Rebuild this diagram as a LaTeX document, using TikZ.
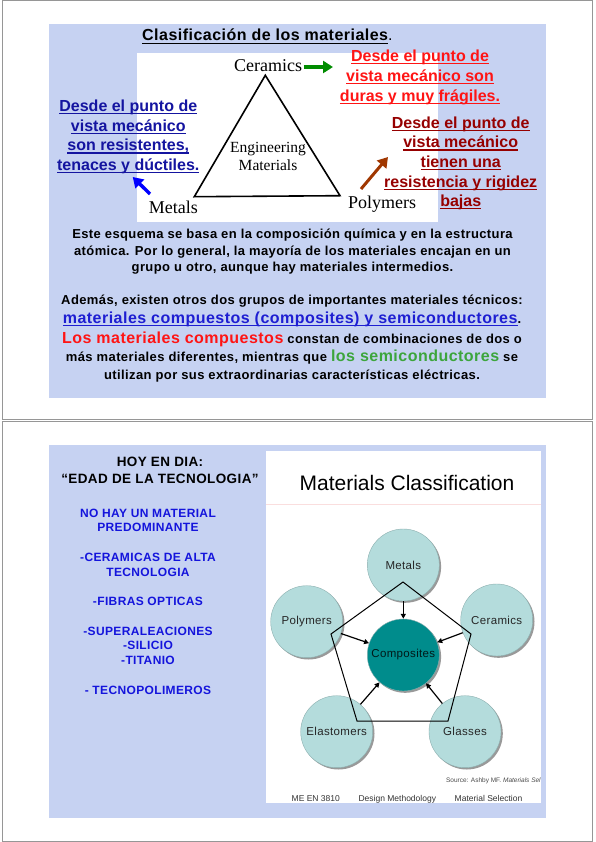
\documentclass[tikz,border=0pt]{standalone}
\usepackage{fontspec}
\setmainfont{Liberation Sans}
\newfontfamily\timesfont{Liberation Serif}
\newfontfamily\spacedsans[LetterSpace=3]{Liberation Sans}
\usetikzlibrary{arrows.meta, shadows}

\definecolor{framegray}{RGB}{150,150,150}
\definecolor{slidebg}{RGB}{198,210,242}
\definecolor{hardred}{RGB}{255,20,20}
\definecolor{toughblue}{RGB}{20,20,160}
\definecolor{softred}{RGB}{150,0,0}
\definecolor{arrowgreen}{RGB}{0,140,0}
\definecolor{arrowblue}{RGB}{0,0,255}
\definecolor{arrowbrown}{RGB}{160,55,0}
\definecolor{linkblue}{RGB}{30,30,210}
\definecolor{semigreen}{RGB}{60,165,60}
\definecolor{listblue}{RGB}{20,20,220}
\definecolor{circfill}{RGB}{180,220,220}
\definecolor{circedge}{RGB}{140,175,175}
\definecolor{compfill}{RGB}{0,140,140}
\definecolor{titlerule}{RGB}{250,222,222}

\newcommand{\ulbar}[1]{\setbox0\hbox{#1}\rlap{\rule[-2.8pt]{\wd0}{1.2pt}}\box0}
\newcommand{\keyterm}{\bfseries\fontsize{16}{18}\selectfont}

\begin{document}
\begin{tikzpicture}[x=1pt, y=-1pt,
    pageframe/.style={draw=framegray, line width=0.9pt},
    slidebox/.style={fill=slidebg},
    vertexlbl/.style={font=\timesfont\fontsize{18}{20}\selectfont, inner sep=0pt, anchor=base},
    remark/.style={font=\bfseries\fontsize{16}{19.6}\selectfont, align=center, inner sep=0pt, anchor=base},
    bodyline/.style={font=\spacedsans\bfseries\fontsize{13}{16}\selectfont, inner sep=0pt, anchor=base},
    pointer/.style={-{Triangle[length=10pt,width=12pt]}, line width=3.4pt},
    family/.style={circle, minimum size=72pt, inner sep=0pt, fill=circfill, draw=circedge, line width=0.4pt,
        font=\spacedsans\fontsize{11.5}{13}\selectfont, text=black!85,
        drop shadow={shadow xshift=1.8pt, shadow yshift=-1.8pt, fill=black!40, opacity=1}},
    link/.style={-{Triangle[length=5pt,width=5pt]}, line width=1.2pt}
]
\useasboundingbox (0,0) rectangle (595,842);
\fill[white] (0,0) rectangle (595,842);

% page frames and slide backgrounds
\draw[pageframe] (2,0.6) rectangle (592.5,419);
\draw[pageframe] (2,421.6) rectangle (592.5,841.2);
\fill[slidebox] (49,24) rectangle (546,397.5);
\fill[slidebox] (49,444.5) rectangle (546,818);

% slide 1
\fill[white] (136.7,53.3) rectangle (438.3,221.7);
\node[anchor=base west, font=\spacedsans\bfseries\fontsize{16}{18}\selectfont, inner sep=0pt] (title) at (142,41)
    {\ulbar{Clasificación de los materiales}{\mdseries.}};

\coordinate (cornerC) at (265.3,75.3);
\coordinate (cornerM) at (194.3,196.7);
\coordinate (cornerP) at (340,195.7);
\draw[line width=1.6pt, line join=miter] (cornerC) -- (cornerM) -- (cornerP) -- cycle;

\node[vertexlbl] (ceramics) at (268,72) {Ceramics};
\node[vertexlbl] (metals1) at (173.3,213.5) {Metals};
\node[vertexlbl] (polymers1) at (382,208.3) {Polymers};
\node[font=\timesfont\fontsize{15.5}{17.8}\selectfont, align=center, inner sep=0pt, anchor=base] (engmat) at (268,170.8)
    {Engineering\\Materials};

\node[remark, text=hardred, font=\bfseries\fontsize{16}{20}\selectfont] (hard) at (420,101.7)
    {\ulbar{Desde el punto de}\\\ulbar{vista mecánico son}\\\ulbar{duras y muy frágiles.}};
\node[remark, text=toughblue] (tough) at (128.3,170.5)
    {\ulbar{Desde el punto de}\\\ulbar{vista mecánico}\\\ulbar{son resistentes,}\\\ulbar{tenaces y dúctiles.}};
\node[remark, text=softred] (soft) at (460.7,206.7)
    {\ulbar{Desde el punto de}\\\ulbar{vista mecánico}\\\ulbar{tienen una}\\\ulbar{resistencia y rigidez}\\\ulbar{bajas}};

\coordinate (gTip) at (333,67);
\coordinate (bTail) at (150,194);
\coordinate (bTip) at (132.7,177);
\coordinate (rTail) at (361,189);
\coordinate (rTip) at (388,157);
\draw[pointer, arrowgreen] ([xshift=1.5pt]ceramics.east |- gTip) -- (gTip);
\draw[pointer, arrowblue] (bTail) -- (bTip);
\draw[pointer, arrowbrown, line width=3pt] (rTail) -- (rTip);

\node[bodyline] (l1) at (292.5,238.3) {Este esquema se basa en la composición química y en la estructura};
\node[bodyline] (l2) at (292.5,255) {atómica. Por lo general, la mayoría de los materiales encajan en un};
\node[bodyline] (l3) at (292.5,271.7) {grupo u otro, aunque hay materiales intermedios.};
\node[bodyline] (l4) at (292,304.3) {Además, existen otros dos grupos de importantes materiales técnicos:};
\node[bodyline] (l5) at (292,323.3) {{\keyterm\color{linkblue}\ulbar{materiales compuestos (composites) y semiconductores}}.};
\node[bodyline] (l6) at (292,343.3) {{\keyterm\color{hardred}Los materiales compuestos} constan de combinaciones de dos o};
\node[bodyline] (l7) at (292,361.7) {más materiales diferentes, mientras que {\keyterm\color{semigreen}los semiconductores} se};
\node[bodyline] (l8) at (292,379.3) {utilizan por sus extraordinarias características eléctricas.};

% slide 2
\node[font=\spacedsans\bfseries\fontsize{13.5}{17.3}\selectfont, align=center, anchor=base, inner sep=0pt] (era) at (160,483.8)
    {HOY EN DIA:\\“EDAD DE LA TECNOLOGIA”};
\node[font=\spacedsans\bfseries\fontsize{12}{14.75}\selectfont, text=listblue, align=center, anchor=base, inner sep=0pt] (trends) at (148,694)
    {NO HAY UN MATERIAL\\PREDOMINANTE\\[14.75pt]-CERAMICAS DE ALTA\\TECNOLOGIA\\[14.75pt]-FIBRAS OPTICAS\\[14.75pt]%
     -SUPERALEACIONES\\-SILICIO\\-TITANIO\\[14.75pt]- TECNOPOLIMEROS};

\fill[white] (265.7,451) rectangle (540.8,803.3);
\draw[titlerule, line width=0.8pt] (266,504) -- (540.8,504);
\node[font=\fontsize{21}{24}\selectfont, anchor=base, inner sep=0pt] (mctitle) at (407,490.5) {Materials Classification};

\node[family] (metals) at (403.3,565) {Metals};
\node[family] (polymers) at (306.7,621.7) {Polymers};
\node[family] (ceramics2) at (496.7,620) {Ceramics};
\node[family] (elastomers) at (336.7,731.7) {Elastomers};
\node[family] (glasses) at (465,731.7) {Glasses};
\node[family, fill=compfill, text=black!80!teal] (composites) at (403.3,655) {Composites};

\coordinate (v1) at (403,582);
\coordinate (v2) at (471,634);
\coordinate (v3) at (448,721);
\coordinate (v4) at (357,721);
\coordinate (v5) at (331,634);
\draw[line width=1pt, line join=miter] (v1) -- (v2) -- (v3) -- (v4) -- (v5) -- cycle;

\draw[link] (metals) -- (composites);
\draw[link] (polymers) -- (composites);
\draw[link] (ceramics2) -- (composites);
\draw[link] (elastomers) -- (composites);
\draw[link] (glasses) -- (composites);

\node[anchor=base east, font=\fontsize{6.5}{8}\selectfont, text=black!70, inner sep=0pt] (source) at (541,782)
    {Source: Ashby MF. \textit{Materials Sel}};
\node[anchor=base, font=\fontsize{8.5}{10}\selectfont, text=black!80, inner sep=0pt] (footer) at (407,801)
    {ME EN 3810\hspace{2.2em}Design Methodology\hspace{2.2em}Material Selection};
\end{tikzpicture}
\end{document}
